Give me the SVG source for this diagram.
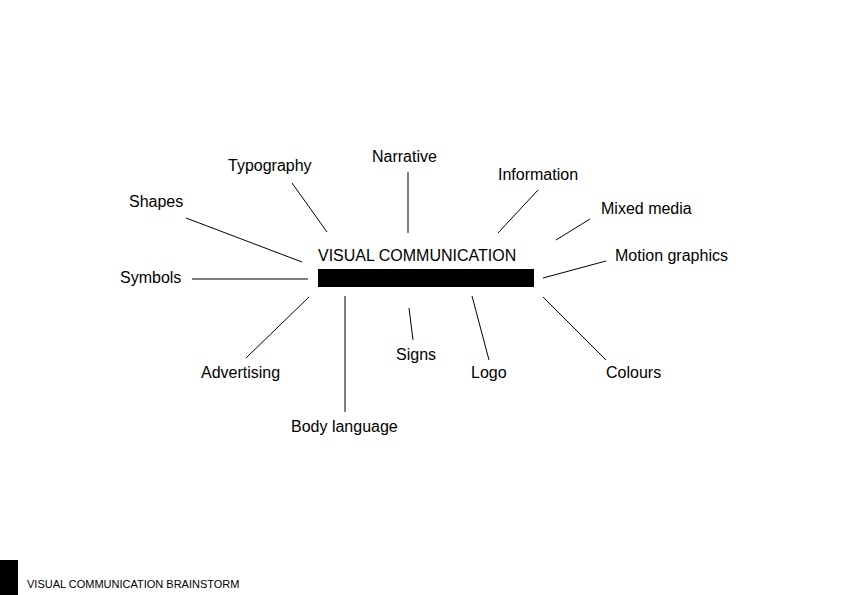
<svg xmlns="http://www.w3.org/2000/svg" width="842" height="595" viewBox="0 0 842 595">
<style>
text{font-family:"Liberation Sans",Arial,sans-serif;font-size:16px;fill:#000}
.c line{stroke:#000;stroke-width:1}
</style>
<rect width="842" height="595" fill="#fff"/>
<g class="c" id="connectors">
<line x1="292" y1="183" x2="327" y2="232"/>
<line x1="408" y1="172" x2="408" y2="233"/>
<line x1="538" y1="190" x2="498" y2="233"/>
<line x1="590" y1="219" x2="556" y2="240"/>
<line x1="186" y1="218" x2="302" y2="262"/>
<line x1="606" y1="261" x2="543" y2="278"/>
<line x1="192" y1="279" x2="308" y2="279"/>
<line x1="246" y1="358" x2="309" y2="297"/>
<line x1="345" y1="412" x2="345" y2="296"/>
<line x1="409" y1="308" x2="413" y2="340"/>
<line x1="472" y1="296" x2="489" y2="360"/>
<line x1="606" y1="360" x2="543" y2="297"/>
</g>
<g id="center"><text x="318" y="261">VISUAL COMMUNICATION</text><rect x="318" y="269" width="216" height="18" fill="#000"/></g>
<g id="typography"><text x="228" y="171">Typography</text></g>
<g id="narrative"><text x="372" y="162">Narrative</text></g>
<g id="information"><text x="498" y="180">Information</text></g>
<g id="mixed"><text x="601" y="214">Mixed media</text></g>
<g id="shapes"><text x="129" y="207">Shapes</text></g>
<g id="motion"><text x="615" y="261">Motion graphics</text></g>
<g id="symbols"><text x="120" y="283">Symbols</text></g>
<g id="advertising"><text x="201" y="378">Advertising</text></g>
<g id="body"><text x="291" y="432">Body language</text></g>
<g id="signs"><text x="396" y="360">Signs</text></g>
<g id="logo"><text x="471" y="378">Logo</text></g>
<g id="colours"><text x="606" y="378">Colours</text></g>
<g id="footer"><rect x="0" y="560" width="18" height="35" fill="#000"/><text x="27" y="588" style="font-size:11px">VISUAL COMMUNICATION BRAINSTORM</text></g>
</svg>
